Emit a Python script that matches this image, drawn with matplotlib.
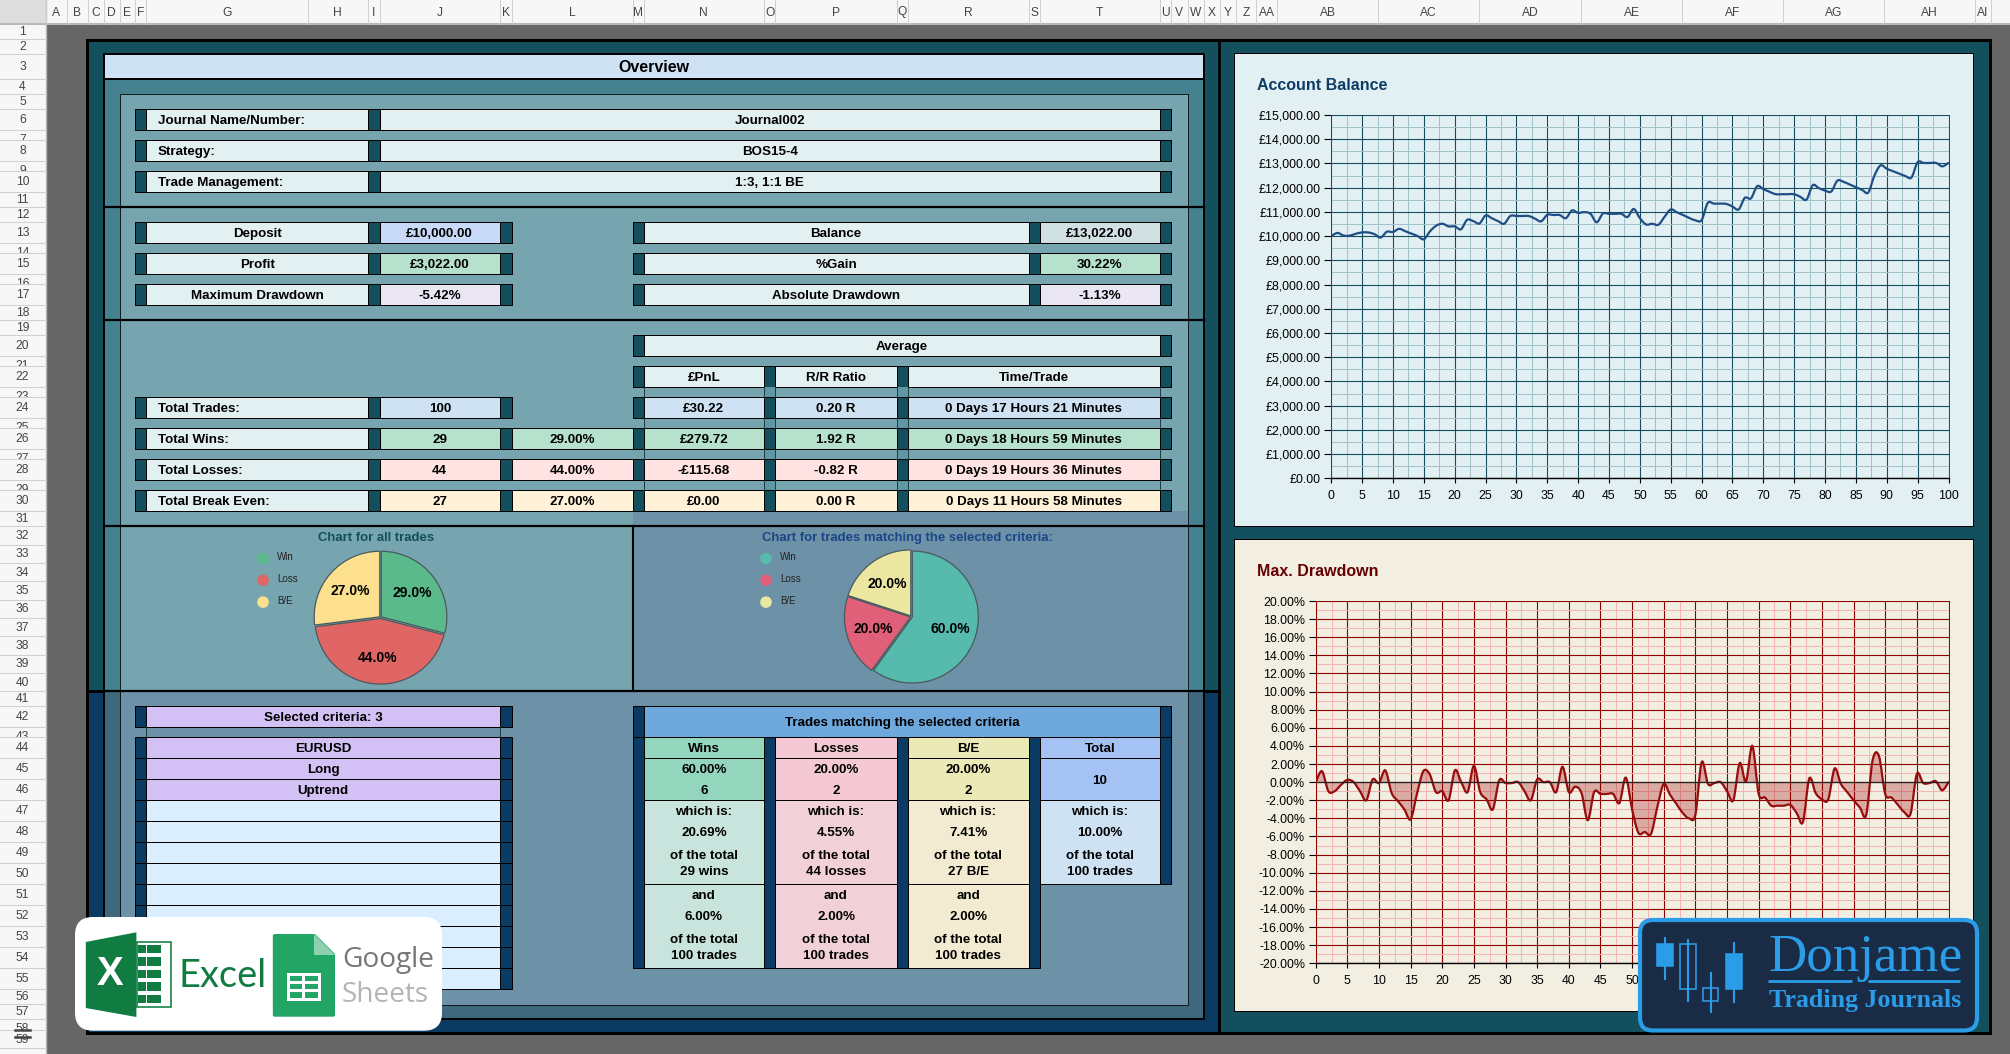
import numpy as np
import matplotlib as mpl

mpl.use("Agg")
from matplotlib import pyplot as plt
from matplotlib.patches import Rectangle, FancyBboxPatch, Polygon, Circle, PathPatch
from matplotlib.path import Path
from matplotlib.ticker import MultipleLocator, FuncFormatter

plt.rcParams['font.family'] = ['Liberation Sans', 'DejaVu Sans']

W, H = 2010, 1054

# account balance after each trade
balance = [10000, 10130, 10020, 10020, 10100, 10150, 10150, 10080, 9940, 10180,
           10170, 10300, 10200, 10100, 10000, 9870, 10200, 10430, 10510, 10400,
           10400, 10280, 10670, 10620, 10520, 10850, 10740, 10620, 10510, 10830,
           10830, 10830, 10830, 10720, 10610, 10880, 10870, 10870, 10740, 11060,
           10960, 10990, 10920, 10570, 10930, 10920, 10920, 10920, 10790, 11120,
           10740, 10480, 10510, 10470, 10800, 11100, 10980, 10870, 10750, 10650,
           10660, 11370, 11340, 11340, 11330, 11220, 11100, 11580, 11560, 12060,
           11940, 11830, 11730, 11730, 11730, 11730, 11620, 11510, 12100, 11980,
           11880, 11840, 12290, 12240, 12130, 12020, 11910, 11800, 12500, 12920,
           12780, 12680, 12580, 12480, 12420, 13050, 13020, 13020, 13020, 12880,
           13022]

# drawdown per trade, percent
drawdown = [0, 1.2, -1.0, -1.0, -0.3, 0.25, 0, -1.0, -2.0, 0.3,
            -0.1, 1.3, -1.2, -2.1, -3.0, -4.1, -1.3, 1.2, 0.9, -1.1,
            -1.0, -2.0, 1.3, 0.0, -1.1, 1.8, -1.1, -1.9, -3.0, 0.2,
            -0.1, -0.1, 0, -1.0, -2.0, 0.3, 0, 0, -1.1, 1.7,
            -1.1, -0.5, -1.2, -4.2, -1.1, -1.3, -1.3, -1.3, -2.3, 0.5,
            -3.0, -5.6, -5.5, -5.7, -2.7, -0.2, -1.4, -2.4, -3.4, -4.0,
            -3.6, 2.2, -0.2, -0.1, 0, -1.0, -2.0, 2.1, 0.1, 4.0,
            -1.3, -1.7, -2.6, -2.6, -2.6, -2.5, -3.4, -4.4, 0.4, -1.2,
            -1.9, -1.9, 1.5, -0.2, -1.1, -2.0, -2.8, -3.6, 2.4, 2.9,
            -1.3, -1.7, -2.5, -3.3, -3.5, 0.9, -0.1, -0.1, 0.1, -0.9,
            0]

pie_labels = ['Win', 'Loss', 'B/E']
pie_all = [29, 44, 27]
pie_selected = [60, 20, 20]

info_labels = ['Journal Name/Number:', 'Strategy:', 'Trade Management:']
info_values = ['Journal002', 'BOS15-4', '1:3, 1:1 BE']

left_labels = ['Deposit', 'Profit', 'Maximum Drawdown']
left_values = ['£10,000.00', '£3,022.00', '-5.42%']
right_labels = ['Balance', '%Gain', 'Absolute Drawdown']
right_values = ['£13,022.00', '30.22%', '-1.13%']

total_labels = ['Total Trades:', 'Total Wins:', 'Total Losses:', 'Total Break Even:']
total_counts = ['100', '29', '44', '27']
total_pcts = [None, '29.00%', '44.00%', '27.00%']
avg_heads = ['£PnL', 'R/R Ratio', 'Time/Trade']
avg_pnl = ['£30.22', '£279.72', '-£115.68', '£0.00']
avg_rr = ['0.20 R', '1.92 R', '-0.82 R', '0.00 R']
avg_time = ['0 Days 17 Hours 21 Minutes', '0 Days 18 Hours 59 Minutes',
            '0 Days 19 Hours 36 Minutes', '0 Days 11 Hours 58 Minutes']

criteria = ['EURUSD', 'Long', 'Uptrend']
match_heads = ['Wins', 'Losses', 'B/E', 'Total']
match_pct = ['60.00%', '20.00%', '20.00%']
match_count = ['6', '2', '2']
match_total = '10'
which_pct = ['20.69%', '4.55%', '7.41%', '10.00%']
which_of = ['29 wins', '44 losses', '27 B/E', '100 trades']
and_pct = ['6.00%', '2.00%', '2.00%']

# sheet geometry
col_names = [chr(65 + i) for i in range(26)] + ['A' + chr(65 + i) for i in range(9)]
col_edges = [46, 66.5, 87.5, 103.5, 119.6, 135.3, 146.4, 307.6, 368, 379.5, 500, 511.6,
             632.6, 643.7, 764, 775, 897, 907.6, 1028.6, 1039.7, 1160, 1171, 1187.5,
             1203.6, 1219.6, 1235.7, 1256, 1277, 1378, 1479, 1581, 1682, 1783, 1884,
             1975, 1990.5]
row_heights = [15, 15, 25, 15, 15, 21, 10, 21, 10, 21, 15, 15, 21, 10, 21, 10, 21, 15, 15,
               21, 10, 21, 10, 21, 10, 21, 10, 21, 10, 21, 15] + [18.33] * 9 + \
              [15, 21, 10] + [21] * 12 + [15, 15, 11, 18]
row_edges = np.concatenate([[24.3], 24.3 + np.cumsum(row_heights)])

LEFT = dict(zip(col_names, col_edges[:-1]))
RIGHT = dict(zip(col_names, col_edges[1:]))


def top(r):
    return row_edges[r - 1]


def bot(r):
    return row_edges[r]


# colours
GRAY = '#666666'
TEAL = '#134f5c'
MID = '#45818e'
PANEL = '#76a5af'
LIGHT = '#e3f0f2'
NAVY = '#0b3a63'
MID2 = '#3f677d'
PANEL2 = '#6d92a7'
BLUE_V = '#cfe2f3'
GREEN_V = '#b6e1cd'
RED_V = '#ffe3e3'
YEL_V = '#fff2d9'
LAV_V = '#ebe6f4'
PURPLE = '#d3c1f6'
SKY = '#dbeeff'

fig = plt.figure(figsize=(W / 100, H / 100), dpi=100, facecolor=GRAY)
ax = fig.add_axes([0, 0, 1, 1])
ax.set_xlim(0, W)
ax.set_ylim(H, 0)
ax.axis('off')


def box(a, x0, y0, x1, y1, fc, ec='none', lw=0.0):
    a.add_patch(Rectangle((x0, y0), x1 - x0, y1 - y0, facecolor=fc, edgecolor=ec, linewidth=lw * 0.72))


def txt(x, y, s, size=13.4, weight='bold', ha='center', color='#000000', a=None, **kw):
    return (a or ax).text(x, y + 1, s, fontsize=size * 0.72, fontweight=weight, ha=ha, va='center',
                          color=color, **kw)


def cell(c0, c1, r0, r1, fc, s=None, ha='center', **kw):
    x0, x1 = LEFT[c0], RIGHT[c1]
    box(ax, x0, top(r0), x1, bot(r1), fc, 'black', 1)
    if s is not None:
        if ha == 'center':
            txt((x0 + x1) / 2, (top(r0) + bot(r1)) / 2 + 0.5, s, **kw)
        else:
            txt(x0 + 11.5, (top(r0) + bot(r1)) / 2 + 0.5, s, ha='left', **kw)


# row and column headers
box(ax, 0, 0, 46, H, '#f7f7f7')
box(ax, 0, 0, W, 24.3, '#f7f7f7')
box(ax, 0, 0, 46, 24.3, '#dddddd')
ax.plot([0, W], [24, 24], color='#b8b8b8', lw=1.5)
ax.plot([46, 46], [0, H], color='#b8b8b8', lw=1)
for e in col_edges:
    ax.plot([e, e], [0, 24], color='#cfcfcf', lw=0.7)
for name, e0, e1 in zip(col_names, col_edges[:-1], col_edges[1:]):
    txt((e0 + e1) / 2, 11.5, name, size=12, weight='normal', color='#444444')
for i in range(59):
    y0, y1 = row_edges[i], row_edges[i + 1]
    ax.plot([0, 46], [y1, y1], color='#cfcfcf', lw=0.7)
    yc = y0 + 9 if y1 - y0 < 12 else (y0 + y1) / 2 - 0.5
    t = txt(22.5, yc, str(i + 1), size=12, weight='normal', color='#444444')
    t.set_clip_on(True)
    t.set_clip_path(Rectangle((0, y0), 46, y1 - y0, transform=ax.transData))
ax.plot([15, 30], [1030, 1030], color='#444444', lw=1.8)
ax.plot([15, 30], [1037, 1037], color='#444444', lw=1.8)

# outer frames
box(ax, 87, 39.5, 1990, 1033, TEAL, 'black', 3)
box(ax, 87, 691, 1218.5, 1033, NAVY, 'black', 3)
ax.plot([1218.5, 1218.5], [39.5, 1033], color='black', lw=2)

# overview column
box(ax, LEFT['D'], top(3), RIGHT['W'], 691, MID, 'black', 2)
box(ax, LEFT['E'], top(5), RIGHT['V'], 691, PANEL, 'black', 0.8)
box(ax, LEFT['D'], top(3), RIGHT['W'], bot(3), BLUE_V, 'black', 2)
txt((LEFT['D'] + RIGHT['W']) / 2, (top(3) + bot(3)) / 2, 'Overview', size=16)

# right half of the pie band has its own shade
box(ax, RIGHT['L'], top(32) - 15, RIGHT['V'], 691, PANEL2)
ax.plot([RIGHT['L'], RIGHT['L']], [526, 691], color='black', lw=1.5)

# selection section
box(ax, LEFT['D'], 691, RIGHT['W'], 1019, MID2, 'black', 2)
box(ax, LEFT['E'], 691, RIGHT['V'], 1004.7, PANEL2, 'black', 0.8)

for y in [207, 320, 526, 691]:
    ax.plot([LEFT['D'], RIGHT['W']], [y, y], color='black', lw=1.6)

# info rows
for r, lab, val in zip([6, 8, 10], info_labels, info_values):
    cell('F', 'F', r, r, TEAL)
    cell('G', 'H', r, r, LIGHT, lab, ha='left')
    cell('I', 'I', r, r, TEAL)
    cell('J', 'T', r, r, LIGHT, val)
    cell('U', 'U', r, r, TEAL)

# deposit / balance rows
left_fc = ['#c9daf8', GREEN_V, LAV_V]
right_fc = ['#d0e0e3', GREEN_V, LAV_V]
for i, r in enumerate([13, 15, 17]):
    cell('F', 'F', r, r, TEAL)
    cell('G', 'H', r, r, LIGHT, left_labels[i])
    cell('I', 'I', r, r, TEAL)
    cell('J', 'J', r, r, left_fc[i], left_values[i])
    cell('K', 'K', r, r, TEAL)
    cell('M', 'M', r, r, TEAL)
    cell('N', 'R', r, r, LIGHT, right_labels[i])
    cell('S', 'S', r, r, TEAL)
    cell('T', 'T', r, r, right_fc[i], right_values[i])
    cell('U', 'U', r, r, TEAL)

# averages
cell('M', 'M', 20, 20, TEAL)
cell('N', 'T', 20, 20, LIGHT, 'Average')
cell('U', 'U', 20, 20, TEAL)
cell('M', 'M', 22, 22, TEAL)
cell('N', 'N', 22, 22, LIGHT, avg_heads[0])
cell('O', 'O', 22, 22, TEAL)
cell('P', 'P', 22, 22, LIGHT, avg_heads[1])
cell('Q', 'Q', 22, 22, TEAL)
cell('R', 'T', 22, 22, LIGHT, avg_heads[2])
cell('U', 'U', 22, 22, TEAL)

for r in [23, 25, 27, 29]:
    for c in ['O', 'Q']:
        box(ax, LEFT[c], top(r), RIGHT[c], bot(r), '#5f97a4')
    for x in [LEFT['N'], LEFT['O'], RIGHT['O'], LEFT['Q'], RIGHT['Q'], LEFT['U']]:
        ax.plot([x, x], [top(r), bot(r)], color='#1d3a42', lw=0.7)

total_fc = [BLUE_V, GREEN_V, RED_V, YEL_V]
for i, r in enumerate([24, 26, 28, 30]):
    fc = total_fc[i]
    cell('F', 'F', r, r, TEAL)
    cell('G', 'H', r, r, LIGHT, total_labels[i], ha='left')
    cell('I', 'I', r, r, TEAL)
    cell('J', 'J', r, r, fc, total_counts[i])
    cell('K', 'K', r, r, TEAL)
    if total_pcts[i]:
        cell('L', 'L', r, r, fc, total_pcts[i])
    cell('M', 'M', r, r, TEAL)
    cell('N', 'N', r, r, fc, avg_pnl[i])
    cell('O', 'O', r, r, TEAL)
    cell('P', 'P', r, r, fc, avg_rr[i])
    cell('Q', 'Q', r, r, TEAL)
    cell('R', 'T', r, r, fc, avg_time[i])
    cell('U', 'U', r, r, TEAL)

# selected criteria list
cell('F', 'F', 42, 42, NAVY)
cell('G', 'J', 42, 42, PURPLE, 'Selected criteria: 3')
cell('K', 'K', 42, 42, NAVY)
for x in [LEFT['G'], RIGHT['J']]:
    ax.plot([x, x], [top(43), bot(43)], color='#1d3a42', lw=0.7)
for i, r in enumerate(range(44, 56)):
    cell('F', 'F', r, r, NAVY)
    if i < len(criteria):
        cell('G', 'J', r, r, PURPLE, criteria[i])
    else:
        cell('G', 'J', r, r, SKY)
    cell('K', 'K', r, r, NAVY)

# matching trades table
cell('M', 'M', 42, 43, NAVY)
cell('N', 'T', 42, 43, '#6fa8dc', 'Trades matching the selected criteria')
cell('U', 'U', 42, 43, NAVY)

match_cols = ['N', 'P', 'R', 'T']
head_fc = ['#93d5bd', '#f4c9d3', '#ebe9b5', '#a4c2f4']
body_fc = ['#c8e4dc', '#f2d0d8', '#f3ebd1', '#cfe2f3']
for tab_c, r0, r1 in [('M', 44, 54), ('O', 44, 54), ('Q', 44, 54), ('S', 44, 54), ('U', 44, 50)]:
    cell(tab_c, tab_c, r0, r1, NAVY)

for i, c in enumerate(match_cols):
    xc = (LEFT[c] + RIGHT[c]) / 2
    cell(c, c, 44, 44, head_fc[i], match_heads[i])
    cell(c, c, 45, 46, head_fc[i])
    if i < 3:
        txt(xc, (top(45) + bot(45)) / 2 + 0.5, match_pct[i])
        txt(xc, (top(46) + bot(46)) / 2 + 0.5, match_count[i])
    else:
        txt(xc, (top(45) + bot(46)) / 2 + 0.5, match_total)
    cell(c, c, 47, 50, body_fc[i])
    txt(xc, (top(47) + bot(47)) / 2 + 0.5, 'which is:')
    txt(xc, (top(48) + bot(48)) / 2 + 0.5, which_pct[i])
    txt(xc, bot(49) - 8, 'of the total')
    txt(xc, top(50) + 8, which_of[i])
    if i < 3:
        cell(c, c, 51, 54, body_fc[i])
        txt(xc, (top(51) + bot(51)) / 2 + 0.5, 'and')
        txt(xc, (top(52) + bot(52)) / 2 + 0.5, and_pct[i])
        txt(xc, bot(53) - 8, 'of the total')
        txt(xc, top(54) + 8, '100 trades')

# chart panels
box(ax, 1233.5, 53.3, 1972.5, 526, '#e3f0f3', 'black', 1)
box(ax, 1233.5, 539.3, 1972.5, 1011, '#f2eee1', 'black', 1)


def px_axes(x0, y0, x1, y1, zorder=5):
    a = fig.add_axes([x0 / W, 1 - y1 / H, (x1 - x0) / W, (y1 - y0) / H], zorder=zorder)
    a.patch.set_alpha(0)
    return a


def smooth_path(xs, ys):
    # catmull-rom segments through every point, same look as a smoothed sheet line
    pts = np.column_stack([xs, ys])
    prev = np.vstack([pts[0], pts[:-1]])
    nxt = np.vstack([pts[1:], pts[-1]])
    c1 = pts[:-1] + (nxt[:-1] - prev[:-1]) / 6
    c2 = pts[1:] - (nxt[1:] - prev[1:]) / 6
    verts = [pts[0]]
    for a, b, p in zip(c1, c2, pts[1:]):
        verts += [a, b, p]
    return verts


def style_chart(a, ystep, major, minor, fmt):
    a.set_xlim(0, 100)
    a.xaxis.set_major_locator(MultipleLocator(5))
    a.xaxis.set_minor_locator(MultipleLocator(2.5))
    a.yaxis.set_major_locator(MultipleLocator(ystep))
    a.yaxis.set_minor_locator(MultipleLocator(ystep / 2))
    a.yaxis.set_major_formatter(FuncFormatter(fmt))
    a.set_axisbelow(True)
    a.grid(True, which='minor', color=minor, lw=0.72)
    a.grid(True, which='major', color=major, lw=0.8)
    a.tick_params(which='minor', length=0)
    a.tick_params(axis='x', which='major', length=3.6, width=0.8, labelsize=8.9, pad=4.5, color='black')
    a.tick_params(axis='y', which='major', length=4.7, width=0.8, labelsize=8.9, pad=3, color='black')
    for s in ['top', 'right', 'left']:
        a.spines[s].set_color(major)
        a.spines[s].set_linewidth(0.7)
    a.spines['bottom'].set_color('black')
    a.spines['bottom'].set_linewidth(1.0)


# balance line
ab = px_axes(1331.3, 115, 1948.5, 478.3)
ab.set_ylim(0, 15000)
style_chart(ab, 1000, '#134f5c', '#a2c1cb', lambda v, p: f'£{v:,.2f}')
x_bal = np.arange(len(balance))
verts = smooth_path(x_bal, balance)
codes = [Path.MOVETO] + [Path.CURVE4] * (len(verts) - 1)
ab.add_patch(PathPatch(Path(verts, codes), fill=False, edgecolor='#1f4e86', lw=1.6, capstyle='round'))
txt(1257, 84, 'Account Balance', size=16, ha='left', color='#0c3c66')

# drawdown line with shaded area against zero
ad = px_axes(1315.7, 601, 1948.5, 963.3)
ad.set_ylim(-20, 20)
style_chart(ad, 2, '#8f0000', '#f4b4b2', lambda v, p: f'{v:.2f}%')
# labels past 50 sit under the badge
ad.xaxis.set_major_formatter(FuncFormatter(lambda v, p: f'{v:.0f}' if v <= 50 else ''))
ad.axhline(0, color='#222222', lw=0.9, zorder=1.5)
x_dd = np.arange(len(drawdown))
verts = smooth_path(x_dd, drawdown)
codes = [Path.MOVETO] + [Path.CURVE4] * (len(verts) - 1)
ad.add_patch(PathPatch(Path(verts + [(100, 0), (0, 0), (0, 0)],
                            codes + [Path.LINETO, Path.LINETO, Path.CLOSEPOLY]),
                       facecolor='#990000', alpha=0.28, edgecolor='none'))
ad.add_patch(PathPatch(Path(verts, codes), fill=False, edgecolor='#960d0d', lw=1.6, capstyle='round'))
txt(1257, 570.7, 'Max. Drawdown', size=16, ha='left', color='#660000')


def draw_pie(cx, cy, r, values, colors, title, title_x, title_color, legend_x):
    lim = 1.15
    a = px_axes(cx - r * lim, cy - r * lim, cx + r * lim, cy + r * lim)
    wedges, texts, autos = a.pie(values, colors=colors, startangle=90, counterclock=False,
                                 explode=[0.015] * len(values), autopct='%.1f%%', pctdistance=0.6,
                                 wedgeprops=dict(edgecolor='#4a5a5c', linewidth=0.9))
    for t in autos:
        t.set_fontsize(10)
        t.set_fontweight('bold')
        t.set_color('black')
    a.set_xlim(-lim, lim)
    a.set_ylim(-lim, lim)
    txt(title_x, 537.3, title, size=13.1, color=title_color)
    for i, lab in enumerate(pie_labels):
        ax.add_patch(Circle((legend_x, 558.5 + i * 21.8), 5.8, facecolor=colors[i], edgecolor='none'))
        txt(legend_x + 14, 556 + i * 22, lab, size=9.8, weight='normal', ha='left', color='#222222')


draw_pie(380.5, 617.5, 65.6, pie_all, ['#5aba8c', '#e06666', '#fde08e'],
         'Chart for all trades', 376.5, '#134f5c', 263)
draw_pie(911.4, 616.7, 66, pie_selected, ['#56baad', '#e0607a', '#ebe7a0'],
         'Chart for trades matching the selected criteria:', 907.4, '#1c4587', 766)

# badges sit on top of everything
ov = px_axes(0, 0, W, H, zorder=20)
ov.set_xlim(0, W)
ov.set_ylim(H, 0)
ov.axis('off')

ov.add_patch(FancyBboxPatch((75, 917), 367, 113.7, boxstyle='round,pad=0,rounding_size=18',
                            facecolor='white', edgecolor='none'))
# spreadsheet icon, green book
XL = '#107c41'
box(ov, 137, 942, 170.5, 1007, 'white', XL, 1.6)
for k in range(5):
    box(ov, 138, 944.5 + k * 12.5, 145.5, 953 + k * 12.5, XL)
    box(ov, 147, 944.5 + k * 12.5, 161, 953 + k * 12.5, XL)
ov.add_patch(Polygon([(85.8, 942), (136.4, 932.3), (136.4, 1017), (85.8, 1008)], closed=True,
                     facecolor=XL, edgecolor='none'))
txt(109.5, 973, 'X', size=40, color='white', a=ov)
txt(178, 975, 'Excel', size=38, weight='normal', ha='left', color=XL, a=ov, family='Lato')

# sheets icon
SH = '#23a566'
ov.add_patch(FancyBboxPatch((272.8, 934), 62.2, 82.7, boxstyle='round,pad=0,rounding_size=2',
                            facecolor=SH, edgecolor='none'))
ov.add_patch(Polygon([(314, 933), (336, 933), (336, 955)], closed=True, facecolor='white', edgecolor='none'))
ov.add_patch(Polygon([(314, 934), (335, 955), (314, 955)], closed=True, facecolor='#8ed1b1', edgecolor='none'))
box(ov, 286.7, 972.7, 321, 1000.7, 'white')
for k in range(3):
    for j in range(2):
        box(ov, 289.5 + j * 15.5, 975.5 + k * 8.4, 302 + j * 15.8, 981 + k * 8.4, SH)
txt(342, 959, 'Google', size=28, weight='normal', ha='left', color='#777777', a=ov, family='Open Sans')
txt(342, 994, 'Sheets', size=28, weight='normal', ha='left', color='#b4b4b4', a=ov, family='Open Sans')

# trading journals badge
CY = '#2b9ce8'
ov.add_patch(FancyBboxPatch((1640, 920), 337, 110.5, boxstyle='round,pad=0,rounding_size=13',
                            facecolor='#1a2c45', edgecolor=CY, linewidth=3))
for xw, w0, w1, x0, x1, b0, b1, solid in [(1664.7, 937.3, 980, 1656.7, 1672.7, 944, 965.7, True),
                                          (1687.7, 939.3, 1001.7, 1680, 1695.7, 944, 989.3, False),
                                          (1710.7, 971.7, 1012.7, 1703.3, 1718.3, 988.3, 1001, False),
                                          (1734, 941.7, 1002.7, 1726, 1742, 954, 989.3, True)]:
    ov.plot([xw, xw], [w0, w1], color=CY, lw=1.5, solid_capstyle='butt')
    box(ov, x0, b0, x1, b1, CY if solid else '#1a2c45', CY, 1.6)
ov.text(1768, 970.7, 'Donjame', fontsize=53 * 0.72, family='Liberation Serif', color=CY, va='baseline', ha='left')
ov.plot([1768, 1852], [980.7, 980.7], color=CY, lw=2, solid_capstyle='butt')
ov.plot([1868, 1960], [980.7, 980.7], color=CY, lw=2, solid_capstyle='butt')
ov.text(1769, 1006.7, 'Trading Journals', fontsize=26 * 0.72, family='Liberation Serif', fontweight='bold',
        color=CY, va='baseline', ha='left')

fig.savefig('out.png', dpi=100, facecolor=GRAY)
